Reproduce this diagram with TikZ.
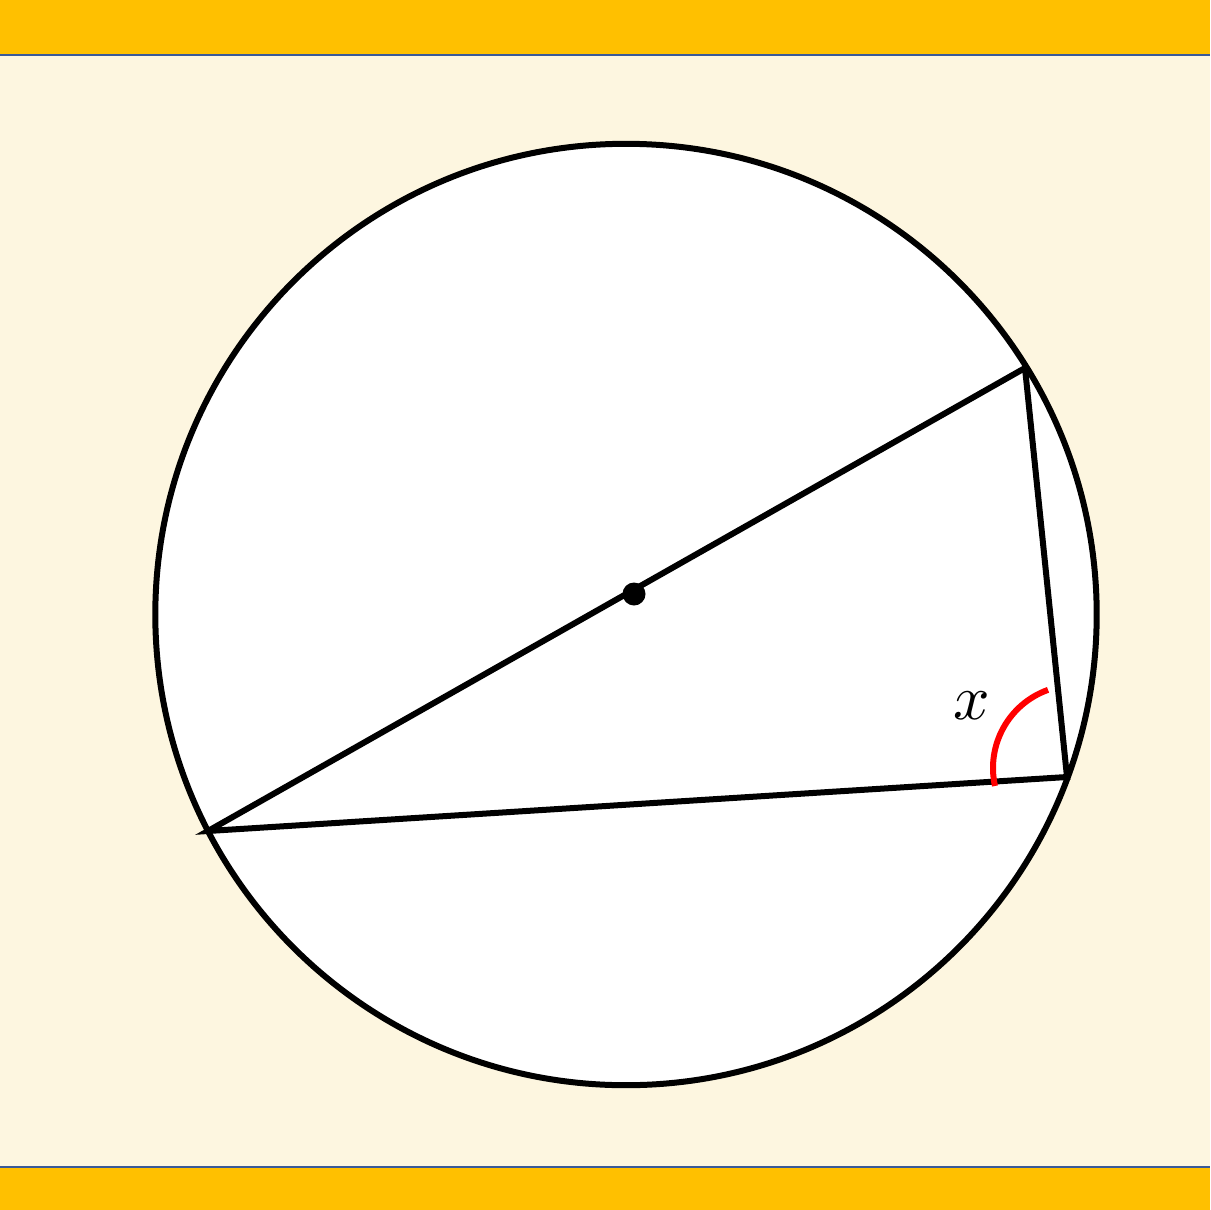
\documentclass[tikz,border=0pt]{standalone}
\definecolor{bandyellow}{HTML}{FFC000}
\definecolor{bandblue}{HTML}{3A5A98}
\definecolor{cream}{HTML}{FDF6E0}
\definecolor{arcred}{HTML}{FF0000}
\tikzset{
  geoline/.style={line width=6pt, black},
  anglearc/.style={line width=6pt, arcred},
  anglelabel/.style={scale=6.4, inner sep=0pt},
}
\begin{document}
\begin{tikzpicture}[x=1pt,y=-1pt]
\useasboundingbox (0,0) rectangle (1210,1210);
% background and bands
\fill[cream] (0,0) rectangle (1210,1210);
\fill[bandyellow] (0,0) rectangle (1210,54);
\fill[bandblue] (0,54) rectangle (1210,56);
\fill[bandblue] (0,1166) rectangle (1210,1168);
\fill[bandyellow] (0,1168) rectangle (1210,1210);
% points
\coordinate (O) at (626,614.5);
\coordinate (A) at (208,831);
\coordinate (B) at (1025,368);
\coordinate (C) at (1067,777);
\coordinate (M) at (634,594);
\coordinate (K) at (1076,768);
% circle
\draw[geoline, fill=white] (O) circle[radius=470.7];
% triangle
\draw[geoline] (A) -- (B) -- (C) -- cycle;
% centre dot
\fill (M) circle[radius=11.5];
% angle arc
\draw[anglearc] ([shift={(167.5:83)}]K) arc[start angle=167.5, end angle=250.3, radius=83];
% label
\node[anglelabel] (lx) at (972,706) {$x$};
\end{tikzpicture}
\end{document}
